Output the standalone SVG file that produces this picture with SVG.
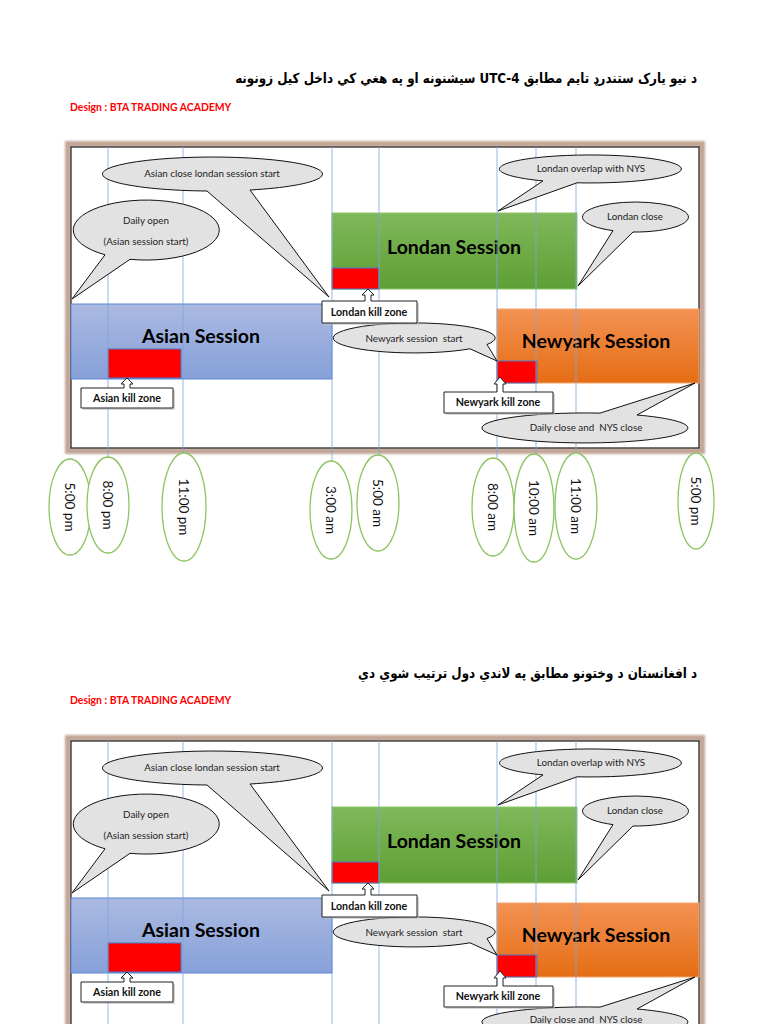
<svg xmlns="http://www.w3.org/2000/svg" width="768" height="1024" viewBox="0 0 768 1024">
<defs>
<linearGradient id="gAsian" x1="0" y1="0" x2="0" y2="1"><stop offset="0" stop-color="#abbae2"/><stop offset="1" stop-color="#86a0d8"/></linearGradient>
<linearGradient id="gLondan" x1="0" y1="0" x2="0" y2="1"><stop offset="0" stop-color="#80b85a"/><stop offset="1" stop-color="#5e9f35"/></linearGradient>
<linearGradient id="gNY" x1="0" y1="0" x2="0" y2="1"><stop offset="0" stop-color="#f39253"/><stop offset="1" stop-color="#e56d14"/></linearGradient>
<filter id="soft" x="-5%" y="-5%" width="110%" height="110%"><feGaussianBlur stdDeviation="1.3"/></filter>
<style>
.title{font-family:"DejaVu Sans",sans-serif;font-weight:bold;font-size:14px;fill:#000}
.design{font-family:Lato,"Liberation Sans",sans-serif;font-weight:bold;font-size:10.4px;fill:#ff0000}
.fshadow{fill:none;stroke:#c3a696;stroke-width:6}
.frame{fill:#fff;stroke:#2a2a2a;stroke-width:1.3}
.sess{stroke-width:1}
.red{fill:#ff0000;stroke:#4a78c8;stroke-width:1}
.vline{stroke:#7ba6de;stroke-width:1;fill:none;opacity:0.8}
.callout{fill:#e2e2e2;stroke:#111;stroke-width:1}
.ctext{font-family:Lato,"Liberation Sans",sans-serif;font-size:9.8px;fill:#222;text-anchor:middle}
.kbox{fill:#fff;stroke:#222;stroke-width:1}
.kshadow{fill:#bdbdbd;opacity:0.6}
.ktext{font-family:Lato,"Liberation Sans",sans-serif;font-weight:bold;font-size:10.7px;fill:#111;text-anchor:middle}
.stext{font-family:Lato,"Liberation Sans",sans-serif;font-weight:bold;font-size:19.5px;fill:#000;text-anchor:middle}
.tell{fill:#fff;stroke:#8cc461;stroke-width:1.3}
.ttext{font-family:Lato,"Liberation Sans",sans-serif;font-size:13.5px;fill:#111;text-anchor:middle;dominant-baseline:central}
</style>
</defs>
<rect width="768" height="1024" fill="#fff"/>

<!-- ===== Diagram 1 ===== -->
<g id="diagram-1">
<text id="title-1" class="title" transform="translate(697,83) scale(0.85,1)" x="0" y="0" direction="rtl">د نيو يارک ستندرډ  تايم مطابق UTC-4 سيشنونه او په هغي کي داخل کيل زونونه</text>
<text id="design-1" class="design" x="70" y="111">Design : BTA TRADING ACADEMY</text>

<g id="frame-1">
<rect class="fshadow" x="68" y="144" width="634" height="307" filter="url(#soft)"/>
<rect class="frame" x="71" y="147" width="628" height="301"/>
</g>

<g id="asian-session-1">
<rect class="sess" x="71" y="304" width="261" height="75" fill="url(#gAsian)" stroke="#5a86d2"/>
<rect class="red" x="108" y="349" width="73" height="29"/>
<text class="stext" x="201" y="343">Asian Session</text>
</g>
<g id="londan-session-1">
<rect class="sess" x="332" y="213" width="245" height="76" fill="url(#gLondan)" stroke="#8cc86a"/>
<rect class="red" x="332" y="268" width="47" height="21"/>
<text class="stext" x="454" y="254">Londan Session</text>
</g>
<g id="newyark-session-1">
<rect class="sess" x="497" y="309" width="202" height="74" fill="url(#gNY)" stroke="#f5a66c"/>
<rect class="red" x="497" y="361" width="40" height="22"/>
<text class="stext" x="596" y="348">Newyark Session</text>
</g>

<g id="connectors-1">
<line class="vline" x1="108" y1="147" x2="108" y2="457"/>
<line class="vline" x1="183" y1="147" x2="183" y2="453"/>
<line class="vline" x1="332" y1="147" x2="332" y2="461"/>
<line class="vline" x1="379" y1="147" x2="379" y2="455"/>
<line class="vline" x1="497" y1="147" x2="497" y2="458"/>
<line class="vline" x1="536" y1="147" x2="536" y2="454"/>
<line class="vline" x1="576" y1="147" x2="576" y2="453"/>
</g>

<g id="callout-asian-close-1">
<path class="callout" d="M207,191 L329,297 L250,190 A110,17 0 1 0 207,191 Z"/>
<text class="ctext" x="212" y="177">Asian close londan session start</text>
</g>
<g id="callout-daily-open-1">
<path class="callout" d="M105,254.8 L72,299 L130,259.3 A73,30 0 1 0 105,254.8 Z"/>
<text class="ctext" x="146" y="224">Daily open</text>
<text class="ctext" x="146" y="245">(Asian session start)</text>
</g>
<g id="callout-overlap-1">
<path class="callout" d="M543,180.9 L498,211 L577,182.8 A91,14 0 1 0 543,180.9 Z"/>
<text class="ctext" x="591" y="172">Londan overlap with NYS</text>
</g>
<g id="callout-londan-close-1">
<path class="callout" d="M613,230.6 L578,286 L633,232 A53,15 0 1 0 613,230.6 Z"/>
<text class="ctext" x="635" y="220">Londan close</text>
</g>
<g id="callout-ny-start-1">
<path class="callout" d="M470,348.8 L497,361 L487,344.5 A81,15 0 1 0 470,348.8 Z"/>
<text class="ctext" x="414" y="342" xml:space="preserve">Newyark session  start</text>
</g>
<g id="callout-daily-close-1">
<path class="callout" d="M600,413.1 L695,383 L637,415 A103,15 0 1 1 600,413.1 Z"/>
<text class="ctext" x="586" y="431" xml:space="preserve">Daily close and  NYS close</text>
</g>

<g id="asian-kill-zone-1">
<path class="kshadow" d="M83,390 H175 V410 H83 Z"/>
<path class="kbox" d="M81,388 H124 V384 H121 L127,378 L133,384 H130 V388 H173 V408 H81 Z"/>
<text class="ktext" x="127" y="402">Asian kill zone</text>
</g>
<g id="londan-kill-zone-1">
<path class="kshadow" d="M324,303 H419 V325 H324 Z"/>
<path class="kbox" d="M322,301 H365 V295 H362 L368,289 L374,295 H371 V301 H417 V323 H322 Z"/>
<text class="ktext" x="369" y="316">Londan kill zone</text>
</g>
<g id="newyark-kill-zone-1">
<path class="kshadow" d="M446,394 H555 V415 H446 Z"/>
<path class="kbox" d="M444,392 H497 V384 H494 L500,377 L506,384 H503 V392 H553 V413 H444 Z"/>
<text class="ktext" x="498" y="406">Newyark kill zone</text>
</g>

<g id="time-5pm-a"><ellipse class="tell" cx="70" cy="507" rx="21" ry="48"/><text class="ttext" transform="translate(70,507) rotate(90)">5:00 pm</text></g>
<g id="time-8pm"><ellipse class="tell" cx="108" cy="505" rx="21" ry="48"/><text class="ttext" transform="translate(108,505) rotate(90)">8:00 pm</text></g>
<g id="time-11pm"><ellipse class="tell" cx="184" cy="507" rx="22" ry="54"/><text class="ttext" transform="translate(184,507) rotate(90)">11:00 pm</text></g>
<g id="time-3am"><ellipse class="tell" cx="331" cy="510" rx="21" ry="49"/><text class="ttext" transform="translate(331,510) rotate(90)">3:00 am</text></g>
<g id="time-5am"><ellipse class="tell" cx="378" cy="503" rx="21" ry="48"/><text class="ttext" transform="translate(378,503) rotate(90)">5:00 am</text></g>
<g id="time-8am"><ellipse class="tell" cx="493" cy="507" rx="21" ry="49"/><text class="ttext" transform="translate(493,507) rotate(90)">8:00 am</text></g>
<g id="time-10am"><ellipse class="tell" cx="534" cy="508" rx="20" ry="54"/><text class="ttext" transform="translate(534,508) rotate(90)">10:00 am</text></g>
<g id="time-11am"><ellipse class="tell" cx="576" cy="506" rx="21" ry="53"/><text class="ttext" transform="translate(576,506) rotate(90)">11:00 am</text></g>
<g id="time-5pm-b"><ellipse class="tell" cx="696" cy="501" rx="18" ry="48"/><text class="ttext" transform="translate(696,501) rotate(90)">5:00 pm</text></g>
</g>

<!-- ===== Diagram 2 ===== -->
<g id="title-2-block">
<text id="title-2" class="title" transform="translate(697,678) scale(0.85,1)" x="0" y="0" direction="rtl">د افغانستان د وختونو مطابق په لاندي دول ترتيب شوي دي</text>
<text id="design-2" class="design" x="70" y="704">Design : BTA TRADING ACADEMY</text>
</g>
<g id="diagram-2" transform="translate(0,594)">
<g id="frame-2">
<rect class="fshadow" x="68" y="144" width="634" height="307" filter="url(#soft)"/>
<rect class="frame" x="71" y="147" width="628" height="301"/>
</g>

<g id="asian-session-2">
<rect class="sess" x="71" y="304" width="261" height="75" fill="url(#gAsian)" stroke="#5a86d2"/>
<rect class="red" x="108" y="349" width="73" height="29"/>
<text class="stext" x="201" y="343">Asian Session</text>
</g>
<g id="londan-session-2">
<rect class="sess" x="332" y="213" width="245" height="76" fill="url(#gLondan)" stroke="#8cc86a"/>
<rect class="red" x="332" y="268" width="47" height="21"/>
<text class="stext" x="454" y="254">Londan Session</text>
</g>
<g id="newyark-session-2">
<rect class="sess" x="497" y="309" width="202" height="74" fill="url(#gNY)" stroke="#f5a66c"/>
<rect class="red" x="497" y="361" width="40" height="22"/>
<text class="stext" x="596" y="348">Newyark Session</text>
</g>

<g id="connectors-2">
<line class="vline" x1="108" y1="147" x2="108" y2="448"/>
<line class="vline" x1="183" y1="147" x2="183" y2="448"/>
<line class="vline" x1="332" y1="147" x2="332" y2="448"/>
<line class="vline" x1="379" y1="147" x2="379" y2="448"/>
<line class="vline" x1="497" y1="147" x2="497" y2="448"/>
<line class="vline" x1="536" y1="147" x2="536" y2="448"/>
<line class="vline" x1="576" y1="147" x2="576" y2="448"/>
</g>

<g id="callout-asian-close-2">
<path class="callout" d="M207,191 L329,297 L250,190 A110,17 0 1 0 207,191 Z"/>
<text class="ctext" x="212" y="177">Asian close londan session start</text>
</g>
<g id="callout-daily-open-2">
<path class="callout" d="M105,254.8 L72,299 L130,259.3 A73,30 0 1 0 105,254.8 Z"/>
<text class="ctext" x="146" y="224">Daily open</text>
<text class="ctext" x="146" y="245">(Asian session start)</text>
</g>
<g id="callout-overlap-2">
<path class="callout" d="M543,180.9 L498,211 L577,182.8 A91,14 0 1 0 543,180.9 Z"/>
<text class="ctext" x="591" y="172">Londan overlap with NYS</text>
</g>
<g id="callout-londan-close-2">
<path class="callout" d="M613,230.6 L578,286 L633,232 A53,15 0 1 0 613,230.6 Z"/>
<text class="ctext" x="635" y="220">Londan close</text>
</g>
<g id="callout-ny-start-2">
<path class="callout" d="M470,348.8 L497,361 L487,344.5 A81,15 0 1 0 470,348.8 Z"/>
<text class="ctext" x="414" y="342" xml:space="preserve">Newyark session  start</text>
</g>
<g id="callout-daily-close-2">
<path class="callout" d="M600,413.1 L695,383 L637,415 A103,15 0 1 1 600,413.1 Z"/>
<text class="ctext" x="586" y="429" xml:space="preserve">Daily close and  NYS close</text>
</g>

<g id="asian-kill-zone-2">
<path class="kshadow" d="M83,390 H175 V410 H83 Z"/>
<path class="kbox" d="M81,388 H124 V384 H121 L127,378 L133,384 H130 V388 H173 V408 H81 Z"/>
<text class="ktext" x="127" y="402">Asian kill zone</text>
</g>
<g id="londan-kill-zone-2">
<path class="kshadow" d="M324,303 H419 V325 H324 Z"/>
<path class="kbox" d="M322,301 H365 V295 H362 L368,289 L374,295 H371 V301 H417 V323 H322 Z"/>
<text class="ktext" x="369" y="316">Londan kill zone</text>
</g>
<g id="newyark-kill-zone-2">
<path class="kshadow" d="M446,394 H555 V415 H446 Z"/>
<path class="kbox" d="M444,392 H497 V384 H494 L500,377 L506,384 H503 V392 H553 V413 H444 Z"/>
<text class="ktext" x="498" y="406">Newyark kill zone</text>
</g>
</g>
</svg>
